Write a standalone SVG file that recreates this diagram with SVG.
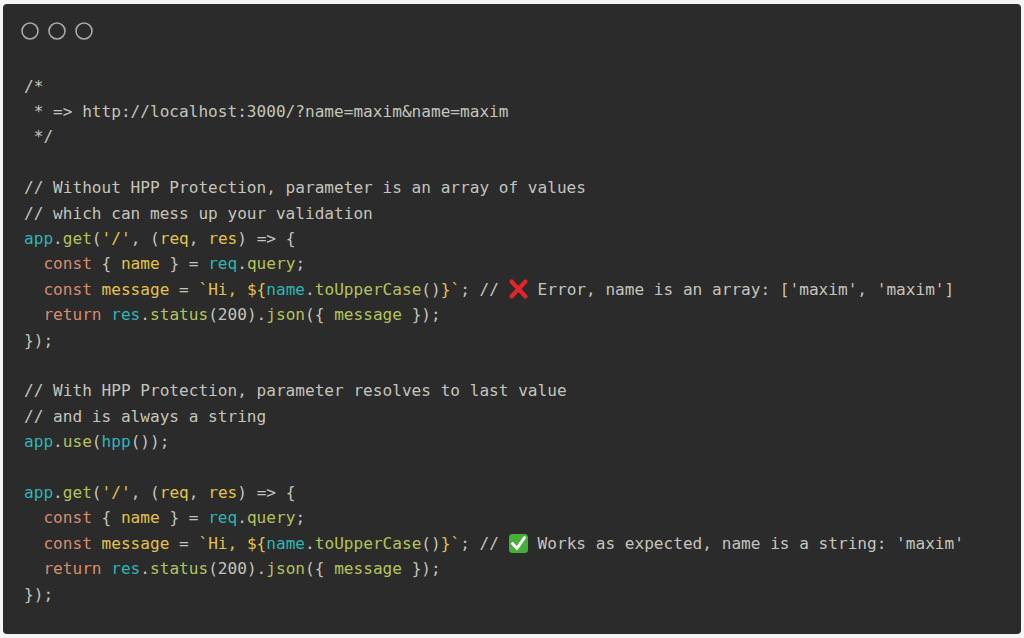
<svg xmlns="http://www.w3.org/2000/svg" width="1024" height="638" viewBox="0 0 1024 638">
  <style>
    .code { font-family: "DejaVu Sans Mono", "Liberation Mono", monospace; font-size: 16.1px; fill: #c4c4bc; }
    .k { fill: #d98b6d; }
    .c { fill: #2fb5b5; }
    .f { fill: #b3c35c; }
    .y { fill: #e2c24a; }
    .dot { fill: none; stroke: #a9a9a9; stroke-width: 1.6; }
  </style>
  <rect x="0" y="0" width="1024" height="638" fill="#f4f4f4"/>
  <g id="window">
    <rect x="3" y="4" width="1018" height="630" rx="4" fill="#2b2b2b"/>
    <circle class="dot" cx="30" cy="31" r="8"/>
    <circle class="dot" cx="57" cy="31" r="8"/>
    <circle class="dot" cx="84" cy="31" r="8"/>
  </g>
  <g id="code" class="code">
    <text x="24" y="91.5">/*</text>
    <text x="33.7" y="116.9">* =&gt; http://localhost:3000/?name=maxim&amp;name=maxim</text>
    <text x="33.7" y="142.3">*/</text>
    <text x="24" y="193.1">// Without HPP Protection, parameter is an array of values</text>
    <text x="24" y="218.5">// which can mess up your validation</text>
    <text x="24" y="243.9"><tspan class="c">app</tspan>.<tspan class="f">get</tspan>(<tspan class="y">'/'</tspan>, (<tspan class="y">req</tspan>, <tspan class="y">res</tspan>) =&gt; {</text>
    <text x="43.4" y="269.3"><tspan class="k">const</tspan> { <tspan class="y">name</tspan> } = <tspan class="c">req</tspan>.<tspan class="f">query</tspan>;</text>
    <text x="43.4" y="294.7"><tspan class="k">const</tspan> <tspan class="y">message</tspan> = <tspan class="y">`Hi, ${</tspan><tspan class="c">name</tspan>.<tspan class="f">toUpperCase</tspan>()<tspan class="y">}`</tspan>; //<tspan x="537.6">Error, name is an array: ['maxim', 'maxim']</tspan></text>
    <text x="43.4" y="320.1"><tspan class="k">return</tspan> <tspan class="c">res</tspan>.<tspan class="f">status</tspan>(200).<tspan class="f">json</tspan>({ <tspan class="f">message</tspan> });</text>
    <text x="24" y="345.5">});</text>
    <text x="24" y="396.3">// With HPP Protection, parameter resolves to last value</text>
    <text x="24" y="421.7">// and is always a string</text>
    <text x="24" y="447.1"><tspan class="c">app</tspan>.<tspan class="f">use</tspan>(<tspan class="c">hpp</tspan>());</text>
    <text x="24" y="497.9"><tspan class="c">app</tspan>.<tspan class="f">get</tspan>(<tspan class="y">'/'</tspan>, (<tspan class="y">req</tspan>, <tspan class="y">res</tspan>) =&gt; {</text>
    <text x="43.4" y="523.3"><tspan class="k">const</tspan> { <tspan class="y">name</tspan> } = <tspan class="c">req</tspan>.<tspan class="f">query</tspan>;</text>
    <text x="43.4" y="548.7"><tspan class="k">const</tspan> <tspan class="y">message</tspan> = <tspan class="y">`Hi, ${</tspan><tspan class="c">name</tspan>.<tspan class="f">toUpperCase</tspan>()<tspan class="y">}`</tspan>; //<tspan x="537.6">Works as expected, name is a string: 'maxim'</tspan></text>
    <text x="43.4" y="574.1"><tspan class="k">return</tspan> <tspan class="c">res</tspan>.<tspan class="f">status</tspan>(200).<tspan class="f">json</tspan>({ <tspan class="f">message</tspan> });</text>
    <text x="24" y="599.5">});</text>
  </g>
  <g id="icon-cross">
    <path d="M511.5 281.5 L525.5 296.5 M525.5 281.5 L511.5 296.5" stroke="#e3242b" stroke-width="4.2" stroke-linecap="round" fill="none"/>
  </g>
  <g id="icon-check">
    <rect x="509" y="534" width="19" height="19" rx="3.5" fill="#44b036"/>
    <path d="M512.5 543.5 L517 548.5 L524.5 537.5" stroke="#ffffff" stroke-width="3" stroke-linecap="round" stroke-linejoin="round" fill="none"/>
  </g>
</svg>
